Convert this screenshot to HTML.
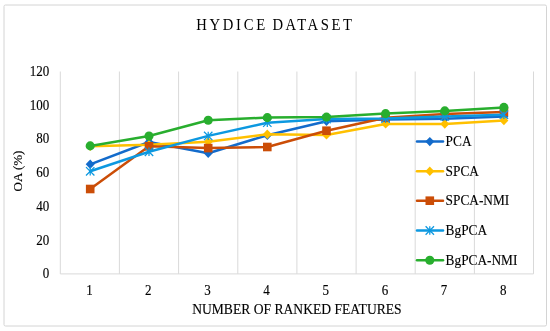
<!DOCTYPE html>
<html><head><meta charset="utf-8"><title>HYDICE DATASET</title>
<style>
html,body{margin:0;padding:0;background:#fff;}
body{width:550px;height:331px;overflow:hidden;}
svg{display:block;}
text{font-family:"Liberation Serif","Times New Roman",serif;fill:#000;stroke:#000;stroke-width:0.12px;}
</style></head><body>
<svg width="550" height="331" viewBox="0 0 550 331">
<rect x="0" y="0" width="550" height="331" fill="#fff"/>
<rect x="4" y="5" width="542.5" height="321" rx="1.5" fill="none" stroke="#D4D4D4" stroke-width="1"/>

<g stroke="#D9D9D9" stroke-width="1" fill="none">
<line x1="60.3" y1="71.5" x2="60.3" y2="273.9"/>
<line x1="119.4" y1="71.5" x2="119.4" y2="273.9"/>
<line x1="178.6" y1="71.5" x2="178.6" y2="273.9"/>
<line x1="237.8" y1="71.5" x2="237.8" y2="273.9"/>
<line x1="296.9" y1="71.5" x2="296.9" y2="273.9"/>
<line x1="356.1" y1="71.5" x2="356.1" y2="273.9"/>
<line x1="415.2" y1="71.5" x2="415.2" y2="273.9"/>
<line x1="474.4" y1="71.5" x2="474.4" y2="273.9"/>
<line x1="533.5" y1="71.5" x2="533.5" y2="273.9"/>
<line x1="60.3" y1="273.9" x2="533.5" y2="273.9"/>
</g>
<text transform="translate(0,29.8) scale(1,1.07)" font-size="14.67" style="stroke-width:0"><tspan x="196.2" letter-spacing="2.7">HYDICE </tspan><tspan x="272.4" letter-spacing="2.6">DATASET</tspan></text>
<text transform="translate(49.2,278.3) scale(1,1.13)" font-size="13" text-anchor="end">0</text>
<text transform="translate(49.2,244.6) scale(1,1.13)" font-size="13" text-anchor="end">20</text>
<text transform="translate(49.2,210.8) scale(1,1.13)" font-size="13" text-anchor="end">40</text>
<text transform="translate(49.2,177.1) scale(1,1.13)" font-size="13" text-anchor="end">60</text>
<text transform="translate(49.2,143.3) scale(1,1.13)" font-size="13" text-anchor="end">80</text>
<text transform="translate(49.2,109.6) scale(1,1.13)" font-size="13" text-anchor="end">100</text>
<text transform="translate(49.2,75.9) scale(1,1.13)" font-size="13" text-anchor="end">120</text>
<text transform="translate(89.5,294.8) scale(1,1.13)" font-size="13" text-anchor="middle">1</text>
<text transform="translate(148.3,294.8) scale(1,1.13)" font-size="13" text-anchor="middle">2</text>
<text transform="translate(207.5,294.8) scale(1,1.13)" font-size="13" text-anchor="middle">3</text>
<text transform="translate(266.6,294.8) scale(1,1.13)" font-size="13" text-anchor="middle">4</text>
<text transform="translate(325.8,294.8) scale(1,1.13)" font-size="13" text-anchor="middle">5</text>
<text transform="translate(384.9,294.8) scale(1,1.13)" font-size="13" text-anchor="middle">6</text>
<text transform="translate(444.1,294.8) scale(1,1.13)" font-size="13" text-anchor="middle">7</text>
<text transform="translate(503.2,294.8) scale(1,1.13)" font-size="13" text-anchor="middle">8</text>
<text transform="translate(296.9,314.4) scale(1,1.1)" font-size="13.6" text-anchor="middle">NUMBER OF RANKED FEATURES</text>
<text transform="translate(21.7,171) rotate(-90)" font-size="13" text-anchor="middle">OA (%)</text>
<polyline points="90.2,164.3 149.0,142.0 208.2,153.2 267.3,135.2 326.5,121.3 385.6,119.4 444.8,118.8 503.9,116.6" fill="none" stroke="#136BCB" stroke-width="2.5" stroke-linecap="round" stroke-linejoin="round"/>
<path d="M85.7 164.3L90.2 159.6L94.7 164.3L90.2 169.0Z" fill="#136BCB"/>
<path d="M144.5 142.0L149.0 137.3L153.5 142.0L149.0 146.7Z" fill="#136BCB"/>
<path d="M203.7 153.2L208.2 148.5L212.7 153.2L208.2 157.9Z" fill="#136BCB"/>
<path d="M262.8 135.2L267.3 130.5L271.8 135.2L267.3 139.9Z" fill="#136BCB"/>
<path d="M322.0 121.3L326.5 116.6L331.0 121.3L326.5 126.0Z" fill="#136BCB"/>
<path d="M381.1 119.4L385.6 114.7L390.1 119.4L385.6 124.1Z" fill="#136BCB"/>
<path d="M440.3 118.8L444.8 114.1L449.3 118.8L444.8 123.5Z" fill="#136BCB"/>
<path d="M499.4 116.6L503.9 111.9L508.4 116.6L503.9 121.3Z" fill="#136BCB"/>
<polyline points="90.2,146.3 149.0,144.8 208.2,141.7 267.3,134.3 326.5,134.9 385.6,123.9 444.8,124.0 503.9,120.6" fill="none" stroke="#FFC000" stroke-width="2.5" stroke-linecap="round" stroke-linejoin="round"/>
<path d="M85.7 146.3L90.2 141.6L94.7 146.3L90.2 151.0Z" fill="#FFC000"/>
<path d="M144.5 144.8L149.0 140.1L153.5 144.8L149.0 149.5Z" fill="#FFC000"/>
<path d="M203.7 141.7L208.2 137.0L212.7 141.7L208.2 146.4Z" fill="#FFC000"/>
<path d="M262.8 134.3L267.3 129.6L271.8 134.3L267.3 139.0Z" fill="#FFC000"/>
<path d="M322.0 134.9L326.5 130.2L331.0 134.9L326.5 139.6Z" fill="#FFC000"/>
<path d="M381.1 123.9L385.6 119.2L390.1 123.9L385.6 128.6Z" fill="#FFC000"/>
<path d="M440.3 124.0L444.8 119.3L449.3 124.0L444.8 128.7Z" fill="#FFC000"/>
<path d="M499.4 120.6L503.9 115.9L508.4 120.6L503.9 125.3Z" fill="#FFC000"/>
<polyline points="90.2,189.0 149.0,146.3 208.2,148.1 267.3,147.0 326.5,130.7 385.6,117.8 444.8,114.1 503.9,111.9" fill="none" stroke="#CB4D07" stroke-width="2.5" stroke-linecap="round" stroke-linejoin="round"/>
<rect x="85.9" y="184.7" width="8.6" height="8.6" fill="#CB4D07"/>
<rect x="144.7" y="142.0" width="8.6" height="8.6" fill="#CB4D07"/>
<rect x="203.9" y="143.8" width="8.6" height="8.6" fill="#CB4D07"/>
<rect x="263.0" y="142.7" width="8.6" height="8.6" fill="#CB4D07"/>
<rect x="322.2" y="126.4" width="8.6" height="8.6" fill="#CB4D07"/>
<rect x="381.3" y="113.5" width="8.6" height="8.6" fill="#CB4D07"/>
<rect x="440.5" y="109.8" width="8.6" height="8.6" fill="#CB4D07"/>
<rect x="499.6" y="107.6" width="8.6" height="8.6" fill="#CB4D07"/>
<polyline points="90.2,171.3 149.0,151.8 208.2,135.9 267.3,122.7 326.5,119.1 385.6,118.6 444.8,116.4 503.9,114.7" fill="none" stroke="#0C98E0" stroke-width="2.5" stroke-linecap="round" stroke-linejoin="round"/>
<path d="M86.0 167.1L94.4 175.5M94.4 167.1L86.0 175.5M90.2 167.1L90.2 175.5" stroke="#0C98E0" stroke-width="1.25" fill="none"/>
<path d="M144.8 147.6L153.2 156.0M153.2 147.6L144.8 156.0M149.0 147.6L149.0 156.0" stroke="#0C98E0" stroke-width="1.25" fill="none"/>
<path d="M204.0 131.7L212.4 140.1M212.4 131.7L204.0 140.1M208.2 131.7L208.2 140.1" stroke="#0C98E0" stroke-width="1.25" fill="none"/>
<path d="M263.1 118.5L271.5 126.9M271.5 118.5L263.1 126.9M267.3 118.5L267.3 126.9" stroke="#0C98E0" stroke-width="1.25" fill="none"/>
<path d="M322.3 114.9L330.7 123.3M330.7 114.9L322.3 123.3M326.5 114.9L326.5 123.3" stroke="#0C98E0" stroke-width="1.25" fill="none"/>
<path d="M381.4 114.4L389.8 122.8M389.8 114.4L381.4 122.8M385.6 114.4L385.6 122.8" stroke="#0C98E0" stroke-width="1.25" fill="none"/>
<path d="M440.6 112.2L449.0 120.6M449.0 112.2L440.6 120.6M444.8 112.2L444.8 120.6" stroke="#0C98E0" stroke-width="1.25" fill="none"/>
<path d="M499.7 110.5L508.1 118.9M508.1 110.5L499.7 118.9M503.9 110.5L503.9 118.9" stroke="#0C98E0" stroke-width="1.25" fill="none"/>
<polyline points="90.2,145.9 149.0,136.0 208.2,120.3 267.3,117.6 326.5,117.1 385.6,113.6 444.8,110.9 503.9,107.4" fill="none" stroke="#28AE2E" stroke-width="2.5" stroke-linecap="round" stroke-linejoin="round"/>
<circle cx="90.2" cy="145.9" r="4.55" fill="#28AE2E"/>
<circle cx="149.0" cy="136.0" r="4.55" fill="#28AE2E"/>
<circle cx="208.2" cy="120.3" r="4.55" fill="#28AE2E"/>
<circle cx="267.3" cy="117.6" r="4.55" fill="#28AE2E"/>
<circle cx="326.5" cy="117.1" r="4.55" fill="#28AE2E"/>
<circle cx="385.6" cy="113.6" r="4.55" fill="#28AE2E"/>
<circle cx="444.8" cy="110.9" r="4.55" fill="#28AE2E"/>
<circle cx="503.9" cy="107.4" r="4.55" fill="#28AE2E"/>
<line x1="417" y1="141.6" x2="443" y2="141.6" stroke="#136BCB" stroke-width="2.5" stroke-linecap="round"/>
<path d="M425.3 141.6L429.8 136.9L434.3 141.6L429.8 146.3Z" fill="#136BCB"/>
<text transform="translate(445.6,146.2) scale(1,1.1)" font-size="13.33" text-anchor="start">PCA</text>
<line x1="417" y1="171.2" x2="443" y2="171.2" stroke="#FFC000" stroke-width="2.5" stroke-linecap="round"/>
<path d="M425.3 171.2L429.8 166.5L434.3 171.2L429.8 175.9Z" fill="#FFC000"/>
<text transform="translate(445.6,175.8) scale(1,1.1)" font-size="13.33" text-anchor="start">SPCA</text>
<line x1="417" y1="200.7" x2="443" y2="200.7" stroke="#CB4D07" stroke-width="2.5" stroke-linecap="round"/>
<rect x="425.5" y="196.4" width="8.6" height="8.6" fill="#CB4D07"/>
<text transform="translate(445.6,205.3) scale(1,1.1)" font-size="13.33" text-anchor="start">SPCA-NMI</text>
<line x1="417" y1="230.5" x2="443" y2="230.5" stroke="#0C98E0" stroke-width="2.5" stroke-linecap="round"/>
<path d="M425.6 226.3L434.0 234.7M434.0 226.3L425.6 234.7M429.8 226.3L429.8 234.7" stroke="#0C98E0" stroke-width="1.25" fill="none"/>
<text transform="translate(445.6,235.1) scale(1,1.1)" font-size="13.33" text-anchor="start">BgPCA</text>
<line x1="417" y1="260.3" x2="443" y2="260.3" stroke="#28AE2E" stroke-width="2.5" stroke-linecap="round"/>
<circle cx="429.8" cy="260.3" r="4.55" fill="#28AE2E"/>
<text transform="translate(445.6,264.9) scale(1,1.1)" font-size="13.33" text-anchor="start">BgPCA-NMI</text>
</svg></body></html>
